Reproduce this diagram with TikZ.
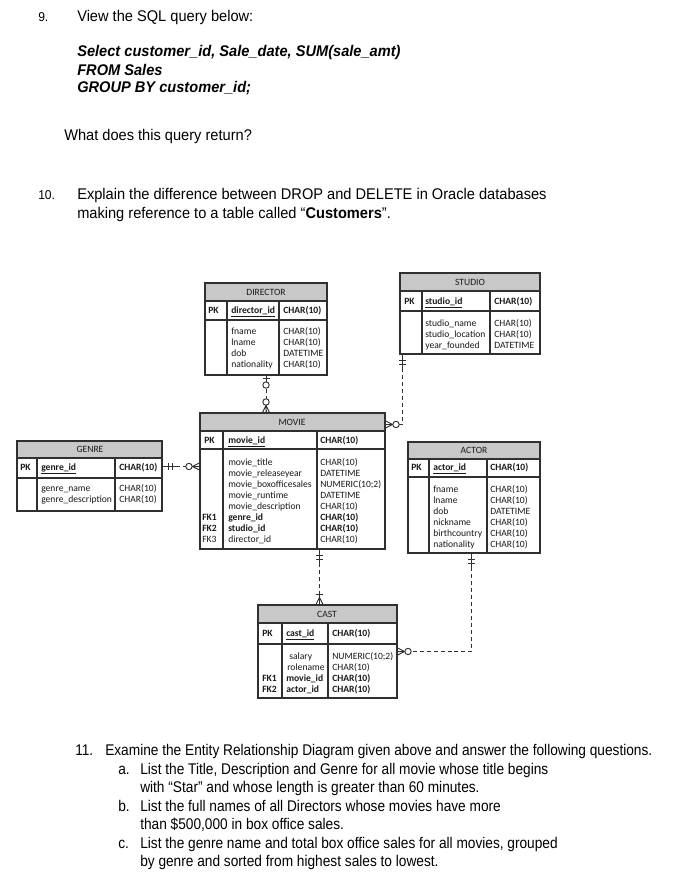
\documentclass[tikz,border=0pt]{standalone}
\usepackage{fontspec}
\newfontfamily\qf[FakeStretch=0.885]{Liberation Sans}
\newfontfamily\qtf[FakeStretch=0.945]{Liberation Sans}
\newfontfamily\tf{Carlito}
\usetikzlibrary{fit,calc}
\definecolor{hdrgray}{HTML}{C8C8C8}
\definecolor{tline}{HTML}{303030}
\definecolor{ttext}{HTML}{1A1A1A}
\newcommand\qsize{\qf\fontsize{11.6pt}{14pt}\selectfont}
\newcommand\qtsize{\qtf\fontsize{11.6pt}{14pt}\selectfont}
\newcommand\tsize{\tf\fontsize{7.2pt}{8.6pt}\selectfont}
\newcommand\ertable[9]{%
  \node[fit={(#2,#6) (#5,#9)}, inner sep=0pt, draw=tline, line width=0.8pt, fill=white] (#1) {};
  \filldraw[draw=tline, line width=0.8pt, fill=hdrgray] (#2,#6) rectangle (#5,#7);
  \draw[draw=tline, line width=0.8pt] (#2,#8) -- (#5,#8) (#3,#7) -- (#3,#9) (#4,#7) -- (#4,#9);
}
\tikzset{
  q/.style={anchor=base west, inner sep=0pt, font=\qsize, text=black},
  qt/.style={anchor=base west, inner sep=0pt, font=\qtsize, text=black},
  qnum/.style={anchor=base west, inner sep=0pt, font=\qtf\fontsize{9.6pt}{11pt}\selectfont, text=black},
  sql/.style={anchor=base west, inner sep=0pt, font=\qtsize\bfseries\itshape, text=black},
  cell/.style={anchor=base west, inner sep=0pt, font=\tsize, text=ttext},
  ttl/.style={inner sep=0pt, font=\tsize, text=ttext},
  relline/.style={draw=tline, line width=0.7pt, dash pattern=on 3pt off 2.2pt},
  rmark/.style={draw=tline, line width=0.7pt},
  zeromany/.pic={\draw[rmark] (0,0) -- (-13,0) (0,-3.5) -- (-7,0) -- (0,3.5);
                 \draw[rmark, fill=white] (-10.5,0) circle[radius=3.2];},
  onemany/.pic={\draw[rmark] (0,0) -- (-13,0) (0,-3.5) -- (-7,0) -- (0,3.5) (-10,-3.5) -- (-10,3.5);},
  onlyone/.pic={\draw[rmark] (0,0) -- (-13,0) (-6,-3.5) -- (-6,3.5) (-10,-3.5) -- (-10,3.5);},
  zeroone/.pic={\draw[rmark] (0,0) -- (-6,0) (-3,-3.5) -- (-3,3.5);
                \draw[rmark, fill=white] (-9.5,0) circle[radius=3.2];},
}
\begin{document}
\begin{tikzpicture}[x=0.75pt,y=-0.75pt]
\useasboundingbox[fill=white] (0,0) rectangle (681,874);

% ---------------- Questions 9 and 10 ----------------
\node[qnum] (q9n) at (38,22) {9.};
\node[qt] (q9) at (77,22) {View the SQL query below:};
\node[sql] (sql1) at (77,57) {Select customer\_id, Sale\_date, SUM(sale\_amt)};
\node[sql] (sql2) at (77,75) {FROM Sales};
\node[sql] (sql3) at (77,93) {GROUP BY customer\_id;};
\node[qt] (q9b) at (64,140) {What does this query return?};
\node[qnum] (q10n) at (38,199) {10.};
\node[qt] (q10a) at (77,199) {Explain the difference between DROP and DELETE in Oracle databases};
\node[qt] (q10b) at (77,218) {making reference to a table called “\textbf{Customers}”.};

% ---------------- Tables ----------------
% DIRECTOR
\ertable{director}{205}{227}{279}{327}{283}{301}{320}{375}
\node[ttl] (director-title) at (266,292) {DIRECTOR};
\node[cell] (director-pk) at (208,313) {\textbf{PK}};
\node[cell] (director-pkn) at (231,313) {\textbf{\underline{director\_id}}};
\node[cell] (director-pkt) at (283,313) {\textbf{CHAR(10)}};
\foreach \yy/\nm/\ty [count=\i] in {334/fname/CHAR(10), 345/lname/CHAR(10), 356/dob/DATETIME, 367/nationality/CHAR(10)}{
  \node[cell] (director-n\i) at (231,\yy) {\nm};
  \node[cell] (director-t\i) at (283,\yy) {\ty};
}

% STUDIO
\ertable{studio}{400}{422}{490}{540}{273}{291}{311}{354}
\node[ttl] (studio-title) at (470,282) {STUDIO};
\node[cell] (studio-pk) at (404,304) {\textbf{PK}};
\node[cell] (studio-pkn) at (425,304) {\textbf{\underline{studio\_id}}};
\node[cell] (studio-pkt) at (494,304) {\textbf{CHAR(10)}};
\foreach \yy/\nm/\ty [count=\i] in {326/studio\_name/CHAR(10), 337/studio\_location/CHAR(10), 348/year\_founded/DATETIME}{
  \node[cell] (studio-n\i) at (425,\yy) {\nm};
  \node[cell] (studio-t\i) at (494,\yy) {\ty};
}

% GENRE
\ertable{genre}{17}{37}{115}{162}{441}{458}{478}{511}
\node[ttl] (genre-title) at (90,449.5) {GENRE};
\node[cell] (genre-pk) at (20,470) {\textbf{PK}};
\node[cell] (genre-pkn) at (41,470) {\textbf{\underline{genre\_id}}};
\node[cell] (genre-pkt) at (119,470) {\textbf{CHAR(10)}};
\foreach \yy/\nm/\ty [count=\i] in {491/genre\_name/CHAR(10), 502/genre\_description/CHAR(10)}{
  \node[cell] (genre-n\i) at (41,\yy) {\nm};
  \node[cell] (genre-t\i) at (119,\yy) {\ty};
}

% MOVIE
\ertable{movie}{200}{223}{317}{385}{413}{431}{449}{549}
\node[ttl] (movie-title) at (292,422) {MOVIE};
\node[cell] (movie-pk) at (204,443) {\textbf{PK}};
\node[cell] (movie-pkn) at (228,443) {\textbf{\underline{movie\_id}}};
\node[cell] (movie-pkt) at (320,443) {\textbf{CHAR(10)}};
\foreach \yy/\nm/\ty [count=\i] in {465/movie\_title/CHAR(10), 476/movie\_releaseyear/DATETIME, 487/movie\_boxofficesales/NUMERIC(10;2), 498/movie\_runtime/DATETIME, 509/movie\_description/CHAR(10), 520/\textbf{genre\_id}/\textbf{CHAR(10)}, 531/\textbf{studio\_id}/\textbf{CHAR(10)}, 542/director\_id/CHAR(10)}{
  \node[cell] (movie-n\i) at (228,\yy) {\nm};
  \node[cell] (movie-t\i) at (320,\yy) {\ty};
}
\node[cell] (movie-fk1) at (202,520) {\textbf{FK1}};
\node[cell] (movie-fk2) at (202,531) {\textbf{FK2}};
\node[cell] (movie-fk3) at (202,542) {FK3};

% ACTOR
\ertable{actor}{408}{429}{487}{540}{442}{459}{477}{553}
\node[ttl] (actor-title) at (474,450.5) {ACTOR};
\node[cell] (actor-pk) at (411,470) {\textbf{PK}};
\node[cell] (actor-pkn) at (433,470) {\textbf{\underline{actor\_id}}};
\node[cell] (actor-pkt) at (490,470) {\textbf{CHAR(10)}};
\foreach \yy/\nm/\ty [count=\i] in {492/fname/CHAR(10), 503/lname/CHAR(10), 514/dob/DATETIME, 525/nickname/CHAR(10), 536/birthcountry/CHAR(10), 547/nationality/CHAR(10)}{
  \node[cell] (actor-n\i) at (433,\yy) {\nm};
  \node[cell] (actor-t\i) at (490,\yy) {\ty};
}

% CAST
\ertable{cast}{258}{282}{328}{397}{605}{623}{644}{698}
\node[ttl] (cast-title) at (327,614) {CAST};
\node[cell] (cast-pk) at (262,636) {\textbf{PK}};
\node[cell] (cast-pkn) at (286,636) {\textbf{\underline{cast\_id}}};
\node[cell] (cast-pkt) at (332,636) {\textbf{CHAR(10)}};
\foreach \yy/\xx/\nm/\ty [count=\i] in {659/289/salary/NUMERIC(10;2), 670/287/rolename/CHAR(10), 681/286/\textbf{movie\_id}/\textbf{CHAR(10)}, 692/286/\textbf{actor\_id}/\textbf{CHAR(10)}}{
  \node[cell] (cast-n\i) at (\xx,\yy) {\nm};
  \node[cell] (cast-t\i) at (332,\yy) {\ty};
}
\node[cell] (cast-fk1) at (262,681) {\textbf{FK1}};
\node[cell] (cast-fk2) at (262,692) {\textbf{FK2}};

% ---------------- Relationships ----------------
\coordinate (dm) at (director.south |- movie.north);
\draw[relline] (director.south) -- (dm);
\pic[rotate=90] at (director.south) {zeroone};
\pic[rotate=-90] at (dm) {zeromany};

\coordinate (s1) at ($(studio.south west)+(3,0)$);
\coordinate (ms) at ($(movie.north east)+(0,12)$);
\draw[relline] (s1) |- (ms);
\pic[rotate=90] at (s1) {onlyone};
\pic[rotate=180] at (ms) {zeromany};

\coordinate (g1) at ($(genre.north east)+(0,26)$);
\coordinate (mg) at (g1 -| movie.west);
\draw[relline] (g1) -- (mg);
\pic[rotate=180] at (g1) {onlyone};
\pic at (mg) {zeromany};

\coordinate (m2) at ($(movie.south west)+(120,0)$);
\coordinate (cm) at (m2 |- cast.north);
\draw[relline] (m2) -- (cm);
\pic[rotate=90] at (m2) {onlyone};
\pic[rotate=-90] at (cm) {onemany};

\coordinate (a1) at ($(actor.south west)+(64,0)$);
\coordinate (ca) at ($(cast.north east)+(0,47)$);
\draw[relline] (a1) |- (ca);
\pic[rotate=90] at (a1) {onlyone};
\pic[rotate=180] at (ca) {zeromany};

% ---------------- Question 11 ----------------
\node[q] (q11n) at (75,755) {11.};
\node[q] (q11) at (105,755) {Examine the Entity Relationship Diagram given above and answer the following questions.};
\node[q] (q11al) at (118,774) {a.};
\node[q] (q11a1) at (140,774) {List the Title, Description and Genre for all movie whose title begins};
\node[q] (q11a2) at (140,792) {with “Star” and whose length is greater than 60 minutes.};
\node[q] (q11bl) at (118,811) {b.};
\node[q] (q11b1) at (140,811) {List the full names of all Directors whose movies have more};
\node[q] (q11b2) at (140,829) {than \$500,000 in box office sales.};
\node[q] (q11cl) at (118,848) {c.};
\node[q] (q11c1) at (140,848) {List the genre name and total box office sales for all movies, grouped};
\node[q] (q11c2) at (140,866) {by genre and sorted from highest sales to lowest.};
\end{tikzpicture}
\end{document}
